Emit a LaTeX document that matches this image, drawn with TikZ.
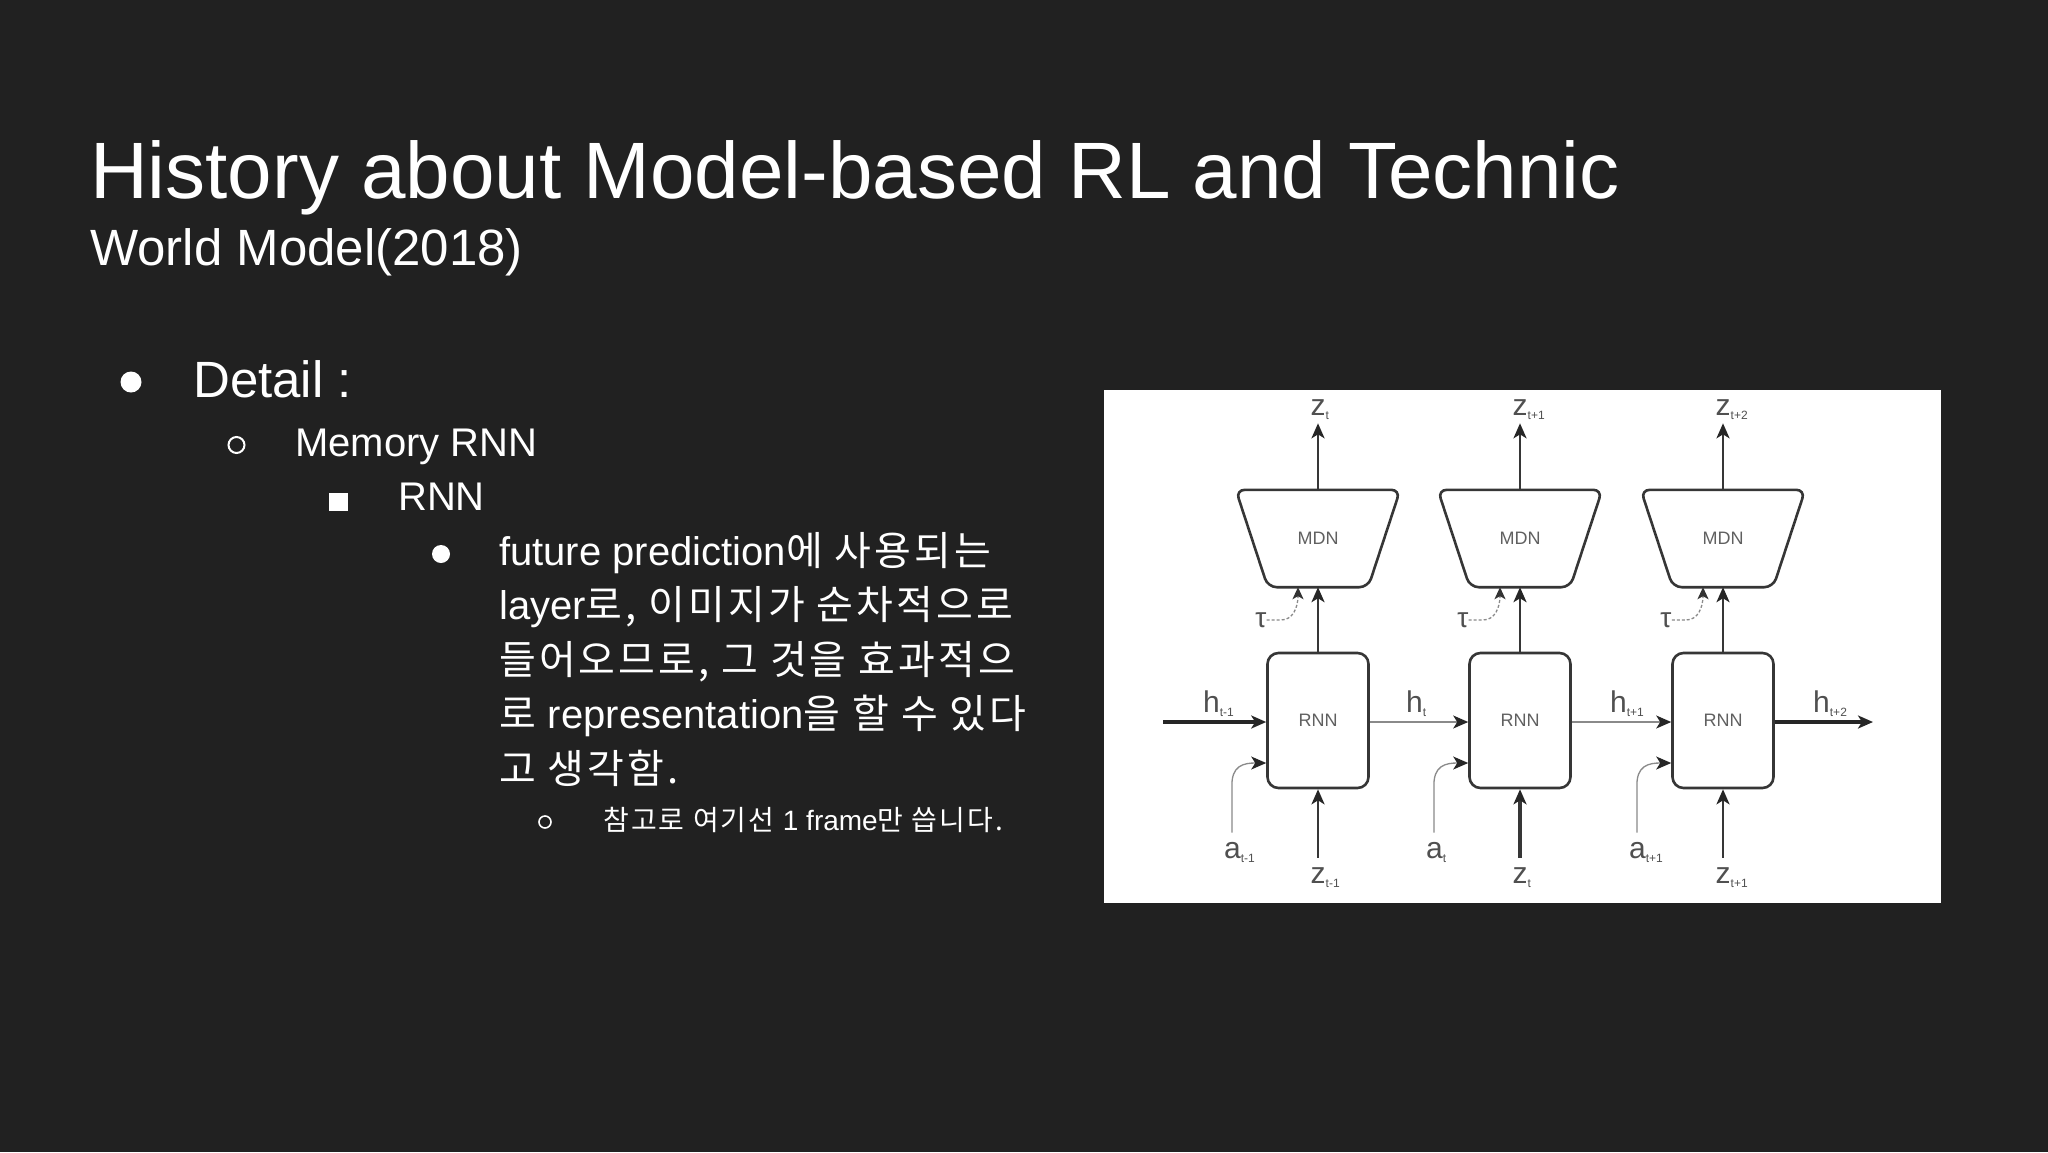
\documentclass[tikz,border=0pt]{standalone}
\usepackage{fontspec}
\setmainfont{Liberation Sans}
\newfontfamily\kr[LetterSpace=7.5]{Noto Sans CJK KR}
\usetikzlibrary{arrows.meta}
\definecolor{bgc}{HTML}{212121}
\definecolor{lc}{HTML}{363636}
\definecolor{thinc}{HTML}{8A8A8A}
\definecolor{labc}{HTML}{505050}
\definecolor{boxlab}{HTML}{606060}
\newcommand\fs[1]{\fontsize{#1}{#1}\selectfont}
\newcommand\lbl[2]{#1\raisebox{-4pt}{\fs{12}#2}}
\begin{document}
\begin{tikzpicture}[x=1pt,y=-1pt,
 txt/.style={text=white,inner sep=0pt,anchor=base west},
 dlab/.style={text=labc,inner sep=0pt,anchor=base west,font=\fs{30}},
 taulab/.style={text=labc,inner sep=0pt,font=\fs{28}},
 rnnbox/.style={draw=lc,line width=2.6pt,rounded corners=11pt,fill=white,minimum width=101pt,minimum height=135pt,inner sep=0pt,text=boxlab,font=\fs{18}},
 mdnbox/.style={minimum width=164pt,minimum height=97pt,inner sep=0pt,text=boxlab,font=\fs{18}},
 trap/.style={draw=lc,line width=2.6pt,rounded corners=9pt},
 tip/.style={-{Stealth[length=15pt,width=13pt,inset=4pt,color=black!85]}},
 vline/.style={tip,draw=lc,line width=2.6pt},
 thickh/.style={tip,draw=black!85,line width=4pt},
 thinh/.style={tip,draw=thinc,line width=1.4pt},
 aline/.style={tip,draw=thinc,line width=1.3pt},
 tauline/.style={-{Stealth[length=12pt,width=11pt,inset=3pt,color=black!80]},draw=thinc,line width=1.3pt,dash pattern=on 3pt off 2pt},
 bdot/.style={circle,fill=white,inner sep=0pt},
 bring/.style={circle,draw=white,inner sep=0pt},
 bsq/.style={rectangle,fill=white,inner sep=0pt}
]
\useasboundingbox (0,0) rectangle (2048,1152);
\fill[bgc] (0,0) rectangle (2048,1152);

% left text
\node[txt,font=\fs{80}] (title) at (90,198) {History about Model-based RL and Technic};
\node[txt,font=\fs{51}] (sub) at (90,265) {World Model(2018)};
\node[bdot,minimum size=21pt] (b1) at (131,382) {};
\node[txt,font=\fs{51}] (l1) at (193,397) {Detail :};
\node[bring,minimum size=16pt,line width=2pt] (b2) at (236.5,445) {};
\node[txt,font=\fs{40}] (l2) at (295,456) {Memory RNN};
\node[bsq,minimum width=19pt,minimum height=18pt] (b3) at (338.5,502) {};
\node[txt,font=\fs{40}] (l3) at (398,510) {RNN};
\node[bdot,minimum size=18pt] (b4) at (441,554) {};
\node[txt,font=\fs{40}] (p1) at (499,565) {future prediction{\kr 에 사용되는}};
\node[txt,font=\fs{40}] (p2) at (499,619.5) {layer{\kr 로, 이미지가 순차적으로}};
\node[txt,font=\fs{40}] (p3) at (499,674) {{\kr 들어오므로, 그 것을 효과적으}};
\node[txt,font=\fs{40}] (p4) at (499,728.5) {{\kr 로 }representation{\kr 을 할 수 있다}};
\node[txt,font=\fs{40}] (p5) at (499,783) {{\kr 고 생각함.}};
\node[bring,minimum size=12pt,line width=1.6pt] (b5) at (545,822) {};
\node[txt,font=\fs{28}] (n1) at (603,830) {{\kr 참고로 여기선 }1 frame{\kr 만 씁니다.}};

% diagram image
\fill[white] (1104,390) rectangle (1941,903);

\foreach \i/\c/\zt/\zb/\za/\bw in {1/1318/t/t-1/t-1/2.6, 2/1520/t+1/t/t/4, 3/1723/t+2/t+1/t+1/2.6}{
  \node[rnnbox] (r\i) at (\c,720.5) {RNN};
  \node[mdnbox] (m\i) at (\c,538.5) {MDN};
  \draw[trap] (m\i.north west) -- (m\i.north east) -- ([xshift=-32pt]m\i.south east) -- ([xshift=32pt]m\i.south west) -- cycle;
  \node[dlab] (zt\i) at (\c-7.5,415) {\lbl{z}{\zt}};
  \draw[vline,shorten >=4pt] (m\i.north) -- (m\i.north |- zt\i.south);
  \node[dlab] (zb\i) at (\c-7.5,883) {\lbl{z}{\zb}};
  \draw[vline,line width=\bw pt,shorten <=9pt] (r\i.south |- zb\i.north) -- (r\i.south);
  \draw[vline] (r\i.north) -- (m\i.south);
  \node[dlab] (a\i) at (\c-94,858) {\lbl{a}{\za}};
  \draw[aline] ([xshift=8pt,yshift=9pt]a\i.north west) -- ++(0,-45) .. controls ([xshift=-35.5pt,yshift=-44.5pt]r\i.west) and ([xshift=-22pt,yshift=-42.5pt]r\i.west) .. ([yshift=-42.5pt]r\i.west);
  \node[taulab] (tau\i) at (\c-57,620) {τ};
  \draw[tauline] (tau\i.east) -- ++(14,0) .. controls ([xshift=-25pt,yshift=-33pt]m\i.south) and ([xshift=-20pt,yshift=-20pt]m\i.south) .. ([xshift=-20pt]m\i.south);
}

\node[dlab] (h0) at (1203,712) {\lbl{h}{t-1}};
\node[dlab] (h1) at (1406,712) {\lbl{h}{t}};
\node[dlab] (h2) at (1610,712) {\lbl{h}{t+1}};
\node[dlab] (h3) at (1813,712) {\lbl{h}{t+2}};
\coordinate (hin) at (1163,722);
\coordinate (hout) at (1873,722);
\draw[thickh] (hin) -- (hin -| r1.west);
\draw[thinh] (r1.east |- hin) -- (r2.west |- hin);
\draw[thinh] (r2.east |- hin) -- (r3.west |- hin);
\draw[thickh] (r3.east |- hin) -- (hout);
\end{tikzpicture}
\end{document}
